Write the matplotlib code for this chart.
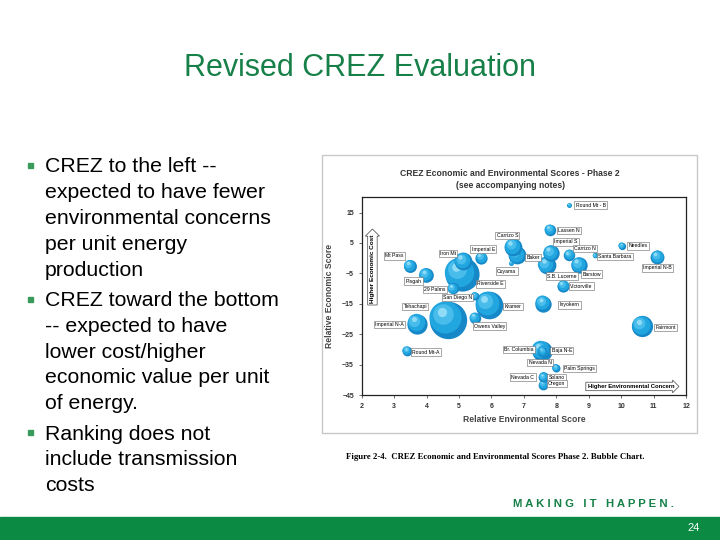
import matplotlib.pyplot as plt
from matplotlib.patches import Rectangle
import numpy as np

plt.rcParams['font.family'] = ['Liberation Sans', 'DejaVu Sans']

# CREZ bubble data
crez = ['Round Mt - B', 'Lassen N', 'Needles', 'Imperial S', 'Carrizo N', 'Santa Barbara',
        'Imperial N-B', 'S.B. Lucerne', 'Barstow', 'Victorville', 'Carrizo S', 'Baker',
        'Cuyama', 'Imperial E', 'Iron Mt', 'Riverside E', 'Mt Pass', 'Pisgah', '29 Palms',
        'San Diego N', 'Kramer', 'Owens Valley', 'Tehachapi', 'Imperial N-A', 'Inyokern',
        'Fairmont', 'Round Mt-A', 'Br. Columbia', 'Baja N-E', 'Nevada N', 'Palm Springs',
        'Nevada C', 'Solano', 'Oregon']
env_score = [8.40, 7.81, 10.02, 7.84, 8.40, 9.20, 11.12, 7.70, 8.70, 8.22, 6.66, 6.78,
             6.60, 5.69, 5.13, 5.08, 3.49, 3.98, 4.80, 5.48, 5.91, 5.49, 4.65, 3.70, 7.60,
             10.65, 3.40, 7.55, 7.60, 7.58, 7.99, 7.60, 7.62, 7.60]
econ_score = [17.5, 9.3, 4.1, 1.7, 1.0, 0.9, 0.4, -2.3, -2.3, -9.0, 3.7, 1.0,
              -1.6, 0.1, -1.0, -5.3, -2.4, -5.6, -9.9, -12.4, -15.3, -19.5, -20.3, -21.6, -14.9,
              -22.4, -30.4, -30.4, -30.6, -30.5, -36.0, -39.0, -39.0, -41.5]
bubble_size = [2, 4.7, 3, 6.7, 4.7, 2.3, 5.7, 7.3, 6.7, 5, 7.3, 7.3,
               2, 5, 7.3, 14, 5.3, 6, 4.7, 3.3, 11.3, 4.7, 15.3, 8.3, 6.7,
               8.7, 4, 8.3, 5, 3.3, 3.3, 4, 4, 4]

# where each label box sits (layout)
label_pos = [(9.06, 17.4), (8.40, 9.1), (10.53, 4.1), (8.30, 5.4), (8.89, 3.15), (9.81, 0.5),
             (11.12, -3.15), (8.17, -5.9), (9.09, -5.2), (8.78, -9.2), (6.49, 7.5), (7.29, 0.2),
             (6.47, -4.2), (5.75, 3.0), (4.66, 1.5), (5.96, -8.4), (3.00, 0.8), (3.59, -7.5),
             (4.26, -10.2), (4.95, -12.9), (6.66, -15.8), (5.94, -22.3), (3.65, -15.8),
             (2.85, -21.8), (8.40, -15.3), (11.38, -22.7), (3.98, -30.8), (6.84, -30.0),
             (8.17, -30.3), (7.50, -34.2), (8.71, -36.2), (6.97, -39.0), (8.01, -39.2),
             (8.01, -41.1)]

bullets = ['CREZ to the left --\nexpected to have fewer\nenvironmental concerns\nper unit energy\nproduction',
           'CREZ toward the bottom\n-- expected to have\nlower cost/higher\neconomic value per unit\nof energy.',
           'Ranking does not\ninclude transmission\ncosts']

green = '#168048'

fig = plt.figure(figsize=(7.2, 5.4), dpi=100)
bg = fig.add_axes([0, 0, 1, 1])
bg.set_xlim(0, 720)
bg.set_ylim(540, 0)
bg.axis('off')

bg.text(360, 68, 'Revised CREZ Evaluation', fontsize=22, color=green, ha='center', va='center')

line_h = 25.8
y = 167
for b in bullets:
    bg.add_patch(Rectangle((28, y - 4), 5, 5, color='#3a9a5c'))
    lines = b.split('\n')
    for ln in lines:
        bg.text(45, y, ln, fontsize=15.3, color='black', va='center', ha='left')
        y += line_h
    y += 4.5

# chart frame and caption
bg.add_patch(Rectangle((322, 155), 375, 278, fill=False, ec='#c8c8c8', lw=1.0))
bg.text(510, 173, 'CREZ Economic and Environmental Scores - Phase 2', fontsize=6.2,
        fontweight='bold', color='#333333', ha='center', va='center')
bg.text(510, 185, '(see accompanying notes)', fontsize=6.2, fontweight='bold',
        color='#333333', ha='center', va='center')
bg.text(346, 457, 'Figure 2-4.  CREZ Economic and Environmental Scores Phase 2. Bubble Chart.',
        fontsize=6.3, fontweight='bold', family='Liberation Serif', ha='left', va='center')

# footer
bg.text(513, 504, 'M A K I N G   I T   H A P P E N .', fontsize=8.2, fontweight='bold',
        color=green, ha='left', va='center')
bg.add_patch(Rectangle((0, 517), 720, 23, color='#0a8a42'))
bg.text(700, 528, '24', fontsize=8, color='white', ha='right', va='center')

# bubble chart
ax = fig.add_axes([0.5024, 0.268, 0.4504, 0.3666])
ax.set_xlim(2, 12)
ax.set_ylim(-45, 20)
ax.set_xticks(range(2, 13))
ax.set_yticks([15, 5, -5, -15, -25, -35, -45])
ax.tick_params(labelsize=5, length=2, width=0.5, colors='#333333')
for lab in ax.get_xticklabels() + ax.get_yticklabels():
    lab.set_fontweight('bold')
for s in ax.spines.values():
    s.set_linewidth(0.9)
    s.set_color('#222222')
ax.set_xlabel('Relative Environmental Score', fontsize=6.2, fontweight='bold', color='#444444', labelpad=4)
ax.set_ylabel('Relative Economic Score', fontsize=6.2, fontweight='bold', color='#444444', labelpad=6)

order = np.argsort(bubble_size)[::-1]
for i in order:
    r = bubble_size[i] * 1.22
    d = 2 * r * 0.72
    ax.scatter(env_score[i], econ_score[i], s=d ** 2, color='#1688c8', linewidths=0, zorder=3)
    ax.scatter(env_score[i] - r * 0.004, econ_score[i] + r * 0.05, s=(d * 0.86) ** 2,
               color='#22a6e0', linewidths=0, zorder=3)
    ax.scatter(env_score[i] - r * 0.008, econ_score[i] + r * 0.1, s=(d * 0.55) ** 2,
               color='#52c4f0', alpha=0.8, linewidths=0, zorder=3)
    ax.scatter(env_score[i] - r * 0.01, econ_score[i] + r * 0.15, s=(d * 0.25) ** 2,
               color='#b0e8fb', alpha=0.7, linewidths=0, zorder=3)

for name, (lx, ly) in zip(crez, label_pos):
    ax.text(lx, ly, name, fontsize=3.7, ha='center', va='center', zorder=5,
            bbox=dict(boxstyle='square,pad=0.25', fc='white', ec='#666666', lw=0.4))

ax.text(2.33, -3.4, 'Higher Economic Cost', rotation=90, fontsize=4.6, fontweight='bold',
        ha='center', va='center', zorder=5,
        bbox=dict(boxstyle='rarrow,pad=0.35', fc='white', ec='#444444', lw=0.5))
ax.text(10.3, -42.1, 'Higher Environmental Concern', fontsize=4.2, fontweight='bold',
        ha='center', va='center', zorder=5,
        bbox=dict(boxstyle='rarrow,pad=0.3', fc='white', ec='#444444', lw=0.5))

fig.savefig('out.png', dpi=100)
